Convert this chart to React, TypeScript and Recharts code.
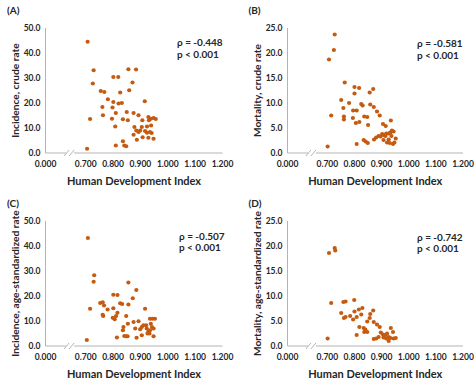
import React from 'react';
import { ScatterChart, Scatter, XAxis, YAxis, ReferenceDot, Label } from 'recharts';

// [HDI, rate] per country
const incidenceCrude: [number, number][] = [
  [0.707, 44.5], [0.729, 33.1], [0.726, 27.8], [0.755, 24.8], [0.768, 24.4], [0.801, 30.4],
  [0.819, 30.4], [0.856, 33.5], [0.884, 33.4], [0.871, 28.2], [0.859, 25.1], [0.826, 24.2],
  [0.781, 21.5], [0.801, 20.4], [0.82, 19.8], [0.832, 20.0], [0.761, 18.4], [0.798, 18.2],
  [0.916, 20.7], [0.716, 13.6], [0.763, 15.1], [0.81, 16.0], [0.796, 13.7], [0.85, 16.4],
  [0.875, 16.0], [0.893, 15.1], [0.836, 13.5], [0.808, 10.6], [0.854, 13.1], [0.929, 14.4],
  [0.938, 13.7], [0.948, 14.0], [0.956, 13.6], [0.931, 13.1], [0.907, 13.1], [0.878, 10.4],
  [0.905, 10.4], [0.924, 10.6], [0.939, 11.0], [0.885, 9.0], [0.893, 8.4], [0.899, 9.0],
  [0.917, 8.8], [0.924, 8.1], [0.935, 8.4], [0.941, 8.0], [0.875, 7.3], [0.908, 6.3],
  [0.887, 5.3], [0.929, 6.1], [0.948, 5.7], [0.81, 3.0], [0.836, 4.7], [0.841, 3.0],
  [0.848, 2.7], [0.705, 1.7],
];

const mortalityCrude: [number, number][] = [
  [0.727, 23.7], [0.724, 20.6], [0.706, 18.7], [0.701, 1.3], [0.714, 7.5], [0.764, 14.1],
  [0.751, 10.6], [0.759, 9.0], [0.761, 7.3], [0.761, 6.7], [0.78, 10.0], [0.8, 13.2],
  [0.8, 11.9], [0.817, 13.0], [0.795, 8.5], [0.808, 8.5], [0.794, 7.0], [0.805, 6.0],
  [0.818, 6.2], [0.825, 9.8], [0.83, 9.5], [0.836, 7.3], [0.847, 7.2], [0.856, 12.1],
  [0.869, 12.8], [0.858, 9.7], [0.871, 9.2], [0.883, 8.3], [0.893, 7.5], [0.85, 5.6],
  [0.905, 5.8], [0.915, 5.4], [0.934, 6.5], [0.808, 1.8], [0.834, 2.6], [0.841, 2.3],
  [0.849, 2.0], [0.872, 2.7], [0.88, 3.1], [0.889, 3.4], [0.896, 3.3], [0.902, 3.8],
  [0.907, 3.6], [0.914, 3.4], [0.917, 3.9], [0.926, 3.9], [0.932, 4.1], [0.938, 4.5],
  [0.936, 3.4], [0.907, 2.6], [0.92, 2.1], [0.93, 2.0], [0.942, 1.8], [0.947, 2.1],
  [0.952, 2.9], [0.944, 4.3], [0.926, 2.7],
];

const incidenceAsr: [number, number][] = [
  [0.708, 43.2], [0.704, 2.4], [0.716, 14.9], [0.731, 28.3], [0.729, 25.7], [0.753, 17.2],
  [0.762, 17.5], [0.767, 16.2], [0.762, 12.5], [0.764, 12.0], [0.78, 14.6], [0.801, 20.5],
  [0.816, 20.4], [0.801, 15.1], [0.799, 11.3], [0.806, 10.7], [0.816, 13.3], [0.811, 12.0],
  [0.826, 17.1], [0.833, 16.8], [0.856, 25.4], [0.856, 16.6], [0.872, 19.1], [0.885, 22.4],
  [0.848, 12.0], [0.854, 8.9], [0.838, 7.6], [0.836, 6.3], [0.841, 4.0], [0.848, 3.9],
  [0.853, 3.9], [0.814, 3.4], [0.875, 9.6], [0.881, 7.0], [0.886, 3.3], [0.893, 9.9],
  [0.899, 6.7], [0.905, 7.6], [0.911, 8.3], [0.917, 14.9], [0.921, 8.3], [0.923, 7.0],
  [0.929, 5.7], [0.933, 5.0], [0.935, 6.3], [0.942, 7.6], [0.948, 7.0], [0.938, 8.9],
  [0.935, 10.9], [0.944, 10.9], [0.953, 10.9], [0.948, 3.9], [0.926, 5.0], [0.905, 4.3],
];

const mortalityAsr: [number, number][] = [
  [0.706, 18.6], [0.727, 19.6], [0.729, 19.1], [0.701, 1.5], [0.714, 8.6], [0.759, 8.8],
  [0.767, 8.9], [0.751, 6.6], [0.761, 5.6], [0.767, 5.8], [0.784, 6.0], [0.799, 9.2],
  [0.8, 6.9], [0.795, 5.3], [0.808, 5.8], [0.816, 7.3], [0.829, 7.6], [0.825, 6.3],
  [0.818, 3.8], [0.808, 2.2], [0.834, 3.6], [0.84, 3.3], [0.836, 2.8], [0.847, 2.8],
  [0.847, 4.9], [0.856, 5.6], [0.858, 6.4], [0.869, 7.1], [0.871, 4.8], [0.883, 4.3],
  [0.893, 3.8], [0.871, 1.4], [0.88, 1.5], [0.889, 1.8], [0.897, 2.7], [0.905, 2.3],
  [0.914, 2.2], [0.92, 2.5], [0.926, 1.8], [0.932, 1.6], [0.917, 1.5], [0.907, 1.7],
  [0.934, 3.6], [0.942, 2.8], [0.944, 1.5], [0.952, 1.6], [0.926, 1.0],
];

const xTicks = [0.553, 0.7, 0.8, 0.9, 1.0, 1.1, 1.2];
const xTickLabels = ['0.000', '0.700', '0.800', '0.900', '1.000', '1.100', '1.200'];
const incidenceTicks = [0, 10, 20, 30, 40, 50];
const mortalityTicks = [0, 5, 10, 15, 20, 25];
const xBreak = 0.643;

const FONT = 'Lato, "Open Sans", sans-serif';
const DOT = '#c55a11';
const AXIS = '#b4b4b4';
const TEXT = '#262626';

interface PanelProps {
  letter: string;
  points: [number, number][];
  yTicks: number[];
  yTitle: string;
  rho: string;
  left: number;
  top: number;
  rightMargin: number;
  noteX: number;
  noteY: number;
}

function BreakMark(props: any) {
  const { cx, cy } = props;
  return (
    <g>
      <rect x={cx - 4} y={cy - 2} width={8} height={4} fill="#fff" />
      <line x1={cx - 6} y1={cy + 3} x2={cx - 1} y2={cy - 3} stroke={AXIS} strokeWidth={1} />
      <line x1={cx - 1} y1={cy + 3} x2={cx + 4} y2={cy - 3} stroke={AXIS} strokeWidth={1} />
    </g>
  );
}

function Dot(props: any) {
  return <circle cx={props.cx} cy={props.cy} r={2.1} fill={DOT} />;
}

function Panel({ letter, points, yTicks, yTitle, rho, left, top, rightMargin, noteX, noteY }: PanelProps) {
  const data = points.map(([x, y]) => ({ x, y }));
  const yMax = yTicks[yTicks.length - 1];
  const tickStyle = { fontSize: 8.5, fontFamily: FONT, fontWeight: 700, fill: TEXT };

  return (
    <div style={{ position: 'absolute', left, top, width: 237, height: 192 }}>
      <ScatterChart width={237} height={192} margin={{ top: 28, right: rightMargin, bottom: 0, left: 0 }}>
        <XAxis
          type="number"
          dataKey="x"
          domain={[xTicks[0], xTicks[xTicks.length - 1]]}
          ticks={xTicks}
          tickFormatter={(v: number) => xTickLabels[xTicks.indexOf(v)]}
          interval={0}
          height={39}
          tickLine={false}
          tickSize={6}
          tickMargin={2}
          axisLine={{ stroke: AXIS }}
          tick={tickStyle}
        >
          <Label
            content={({ viewBox }: any) => (
              <text
                x={viewBox.x + viewBox.width / 2}
                y={viewBox.y + 27}
                textAnchor="middle"
                dominantBaseline="central"
                fontSize={11}
                fontFamily={FONT}
                fontWeight={700}
                fill={TEXT}
              >
                Human Development Index
              </text>
            )}
          />
        </XAxis>
        <YAxis
          type="number"
          dataKey="y"
          domain={[0, yMax]}
          ticks={yTicks}
          tickFormatter={(v: number) => v.toFixed(1)}
          width={45.5}
          tickLine={false}
          tickSize={3}
          tickMargin={2}
          axisLine={{ stroke: AXIS }}
          tick={tickStyle}
        >
          <Label
            content={({ viewBox }: any) => {
              const cx = viewBox.x + viewBox.width - 30.5;
              const cy = viewBox.y + viewBox.height / 2;
              return (
                <text
                  x={cx}
                  y={cy}
                  transform={`rotate(-90 ${cx} ${cy})`}
                  textAnchor="middle"
                  dominantBaseline="central"
                  fontSize={10.2}
                  fontFamily={FONT}
                  fontWeight={700}
                  fill={TEXT}
                >
                  {yTitle}
                </text>
              );
            }}
          />
        </YAxis>
        <ReferenceDot x={xBreak} y={0} r={0} ifOverflow="visible" shape={BreakMark} />
        <Scatter data={data} fill={DOT} shape={Dot} isAnimationActive={false} />
      </ScatterChart>
      <div style={{ position: 'absolute', left: 7, top: 4, fontFamily: FONT, fontWeight: 700, fontSize: 10, color: TEXT }}>
        {letter}
      </div>
      <div
        style={{
          position: 'absolute',
          left: noteX,
          top: noteY,
          fontFamily: FONT,
          fontWeight: 700,
          fontSize: 10,
          lineHeight: '11.5px',
          color: TEXT,
          whiteSpace: 'nowrap',
        }}
      >
        <div>ρ = {rho}</div>
        <div>p &lt; 0.001</div>
      </div>
    </div>
  );
}

export default function App() {
  return (
    <div style={{ position: 'absolute', left: 0, top: 0, width: 474, height: 383, background: '#fff', overflow: 'hidden' }}>
      <Panel letter="(A)" points={incidenceCrude} yTicks={incidenceTicks} yTitle="Incidence, crude rate"
        rho="-0.448" left={0} top={0} rightMargin={14.5} noteX={177} noteY={37} />
      <Panel letter="(B)" points={mortalityCrude} yTicks={mortalityTicks} yTitle="Mortality, crude rate"
        rho="-0.581" left={241.5} top={0} rightMargin={16} noteX={175.5} noteY={38} />
      <Panel letter="(C)" points={incidenceAsr} yTicks={incidenceTicks} yTitle="Incidence, age-standardized rate"
        rho="-0.507" left={0} top={192.5} rightMargin={14.5} noteX={179} noteY={38} />
      <Panel letter="(D)" points={mortalityAsr} yTicks={mortalityTicks} yTitle="Mortality, age-standardized rate"
        rho="-0.742" left={241.5} top={192.5} rightMargin={16} noteX={175.5} noteY={39} />
    </div>
  );
}
